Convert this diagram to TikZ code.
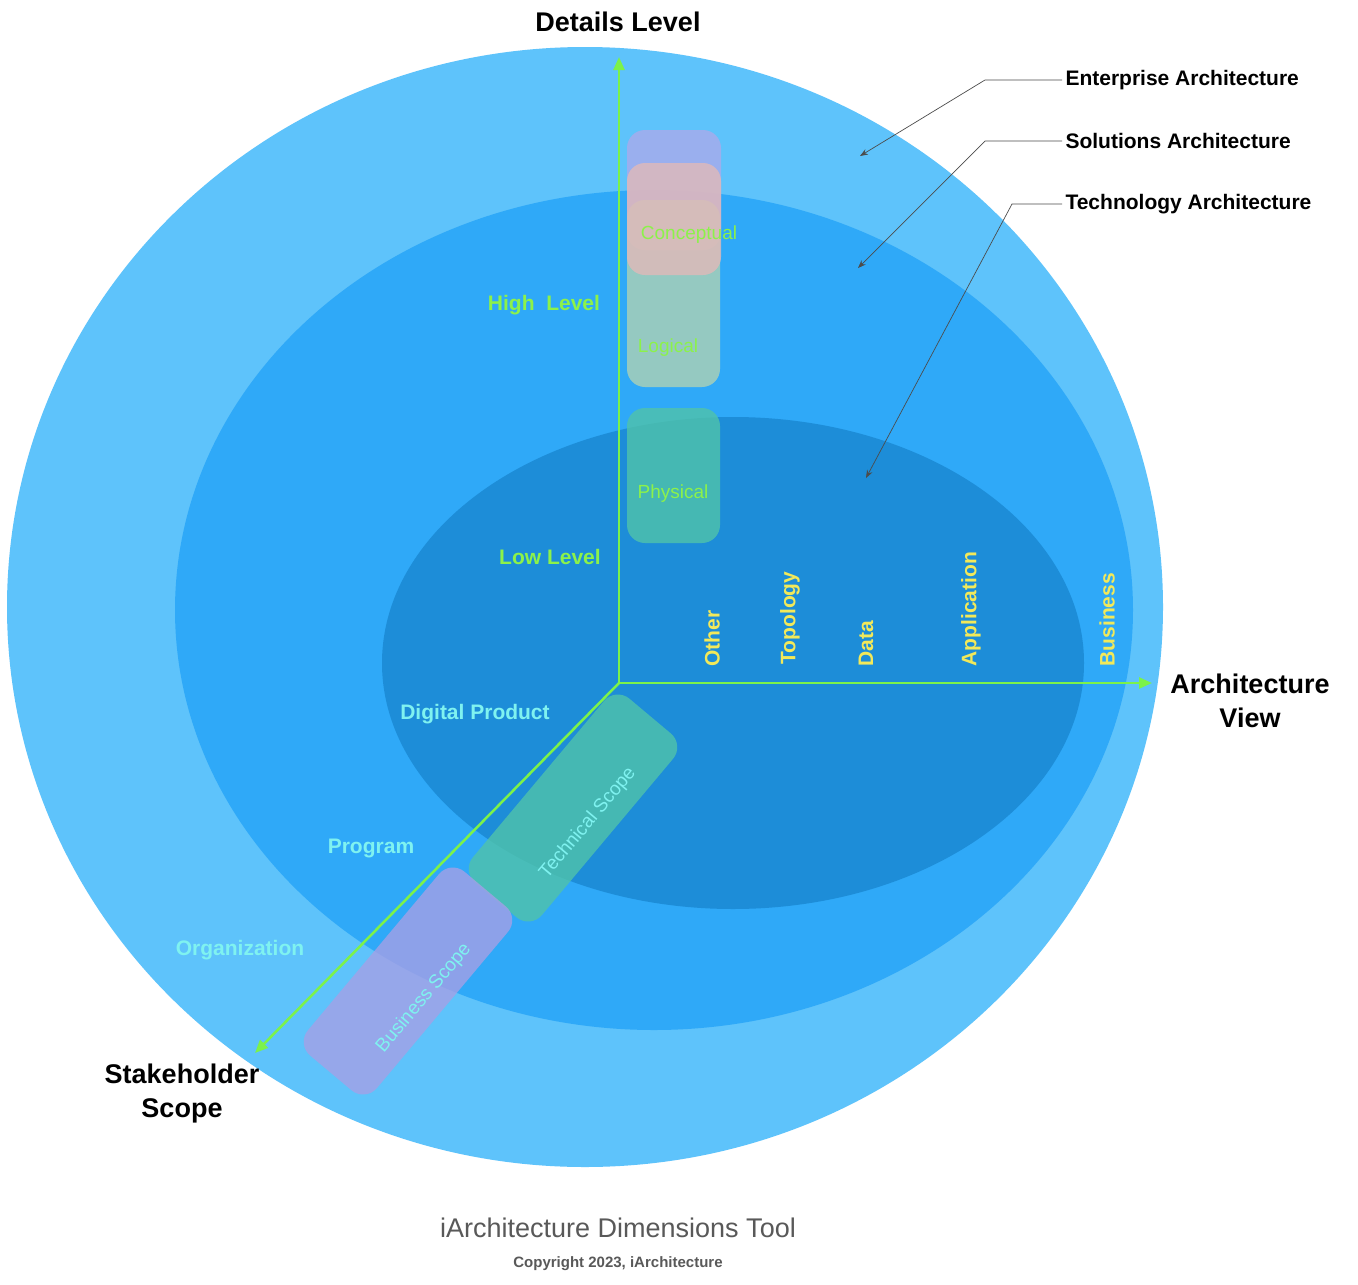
\documentclass[tikz,border=0pt]{standalone}
\usepackage{fontspec}
\setmainfont{Liberation Sans}
\usetikzlibrary{arrows.meta}
\definecolor{outerc}{HTML}{5EC3FB}
\definecolor{midc}{HTML}{2FA9F8}
\definecolor{innc}{HTML}{1D8DD8}
\definecolor{axc}{HTML}{7CF24A}
\definecolor{grn}{HTML}{8CF24A}
\definecolor{cyn}{HTML}{7FF2F0}
\definecolor{yel}{HTML}{F2E95A}
\definecolor{bpur}{RGB}{170,170,235}
\definecolor{bpink}{RGB}{225,185,185}
\definecolor{blg}{RGB}{175,210,180}
\definecolor{bteal}{RGB}{80,195,170}
\definecolor{bdpur}{RGB}{165,160,230}
\tikzset{x=1pt,y=-1pt,
 ax/.style={draw=axc,line width=2.5pt,-{Triangle[length=13pt,width=11pt]}},
 lvl/.style={font=\bfseries\fontsize{21}{24}\selectfont,text=grn},
 scp/.style={font=\bfseries\fontsize{21}{24}\selectfont,text=cyn},
 vw/.style={font=\bfseries\fontsize{21}{24}\selectfont,text=yel,rotate=90,anchor=west},
 ttl/.style={font=\fontsize{27}{34}\selectfont\bfseries,align=center},
 ann/.style={font=\fontsize{21}{24}\selectfont\bfseries,anchor=west},
 pt/.style={draw=black!70,line width=0.7pt,-{Stealth[length=8pt]}},
 bx/.style={rounded corners=18pt,fill opacity=0.8},
 bl/.style={font=\fontsize{19}{22}\selectfont}}
\begin{document}
\begin{tikzpicture}
\fill[white] (0,0) rectangle (1358,1285);
\useasboundingbox (0,0) rectangle (1358,1285);
\fill[outerc] (585,607) ellipse [x radius=578, y radius=-560];
\fill[midc] (654,610) ellipse [x radius=479, y radius=-420];
\fill[innc] (733,663) ellipse [x radius=351, y radius=-246];
% vertical boxes
\fill[bx,fill=bpur] (627,130) rectangle (721,250);
\fill[bx,fill=blg] (627,200) rectangle (720,387);
\fill[bx,fill=bpink] (627,163) rectangle (721,275);
\fill[bx,fill=bteal] (627,408) rectangle (720,543);
\node[bl,text=grn] (conc) at (689,235) {Conceptual};
\node[bl,text=grn] (logi) at (668,348) {Logical};
\node[bl,text=grn] (phys) at (673,494) {Physical};
% diagonal boxes
\fill[bx,fill=bteal,rotate around={50:(573,808)}] (453,763) rectangle (693,853);
\fill[bx,fill=bdpur,rotate around={50:(408,981)}] (288,936) rectangle (528,1026);
\node[bl,text=cyn,rotate=50] (tech) at (588,823) {Technical Scope};
\node[bl,text=cyn,rotate=50] (bus) at (424,998) {Business Scope};
% axes
\coordinate (o) at (619,683);
\coordinate (up) at (619,57);
\coordinate (rt) at (1152,683);
\coordinate (dl) at (255,1053);
\draw[ax] (o) -- (up);
\draw[ax] (o) -- (rt);
\draw[ax] (o) -- (dl);
\node[ttl] (dl1) at (618,22) {Details Level};
\node[ttl] (av) at (1250,701) {Architecture\\View};
\node[ttl] (ss) at (182,1094) {Stakeholder\\Scope};
\node[lvl] (hl) at (544,305) {High\ \ Level};
\node[lvl] (ll) at (550,557) {Low Level};
\node[scp] (dp) at (475,714) {Digital Product};
\node[scp] (pg) at (371,848) {Program};
\node[scp] (org) at (240,950) {Organization};
\node[vw] (v1) at (712,670) {Other};
\node[vw] (v2) at (790,668) {Topology};
\node[vw] (v3) at (866,670) {Data};
\node[vw] (v4) at (971,670) {Application};
\node[vw] (v5) at (1107,670) {Business};
% annotations
\node[ann] (ea) at (1062,80) {Enterprise Architecture};
\node[ann] (sa) at (1062,141) {Solutions Architecture};
\node[ann] (ta) at (1062,204) {Technology Architecture};
\coordinate (ea0) at (860,156);
\coordinate (sa0) at (858,268);
\coordinate (ta0) at (866,478);
\draw[pt] (ea.west) -- (985,80) -- (ea0);
\draw[pt] (sa.west) -- (985,141) -- (sa0);
\draw[pt] (ta.west) -- (1012,204) -- (ta0);
\node[font=\fontsize{27}{30}\selectfont,text=black!65] (t) at (618,1228) {iArchitecture Dimensions Tool};
\node[font=\fontsize{15}{18}\selectfont\bfseries,text=black!65] (c) at (618,1264) {Copyright 2023, iArchitecture};
\end{tikzpicture}
\end{document}
